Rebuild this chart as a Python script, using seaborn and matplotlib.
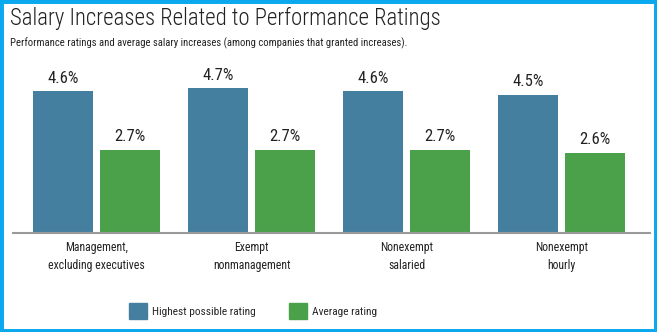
import matplotlib
matplotlib.use("Agg")
import matplotlib.pyplot as plt
import matplotlib.patches as mpatches
import seaborn as sns
import pandas as pd

categories = ["Management,\nexcluding executives", "Exempt\nnonmanagement",
              "Nonexempt\nsalaried", "Nonexempt\nhourly"]
series_names = ["Highest possible rating", "Average rating"]
highest = [4.6, 4.7, 4.6, 4.5]
average = [2.7, 2.7, 2.7, 2.6]
colors = ["#457f9f", "#4aa14a"]

df = pd.DataFrame({
    "category": categories * 2,
    "series": [series_names[0]] * 4 + [series_names[1]] * 4,
    "value": highest + average,
})

sns.set_theme(style="white")
plt.rcParams['font.family'] = ['Roboto Condensed', 'Roboto', 'DejaVu Sans']

fig = plt.figure(figsize=(6.57, 3.32), dpi=100)
ax = fig.add_axes([13/657, 1 - 233/332, (650-13)/657, (233-73)/332])

sns.barplot(data=df, x="category", y="value", hue="series", order=categories,
            hue_order=series_names, palette=colors, width=0.865, gap=0.104,
            ax=ax, legend=False, saturation=1, linewidth=0)

ax.set_ylim(0, 5.2)
ax.set_xlim(-0.539, 3.571)
ax.set_xlabel("")
ax.set_ylabel("")
ax.set_yticks([])
ax.tick_params(axis="x", length=0, pad=6, labelsize=8.5, colors="#222222")
for lab in ax.get_xticklabels():
    lab.set_linespacing(1.45)
for s in ["top", "left", "right"]:
    ax.spines[s].set_visible(False)
ax.spines["bottom"].set_color("#9a9a9a")
ax.spines["bottom"].set_linewidth(1.5)

for cont in ax.containers:
    ax.bar_label(cont, labels=[f"{v:.1f}%" for v in cont.datavalues],
                 padding=4, fontsize=12, color="#222222")

fig.text(10/657, 1 - 18/332, "Salary Increases Related to Performance Ratings",
         fontsize=16.4, fontweight="light", color="#222222", va="center", ha="left")
fig.text(10/657, 1 - 43/332,
         "Performance ratings and average salary increases (among companies that granted increases).",
         fontsize=7.7, color="#222222", va="center", ha="left")

handles = [mpatches.Patch(color=c, label=n) for c, n in zip(colors, series_names)]
fig.legend(handles=handles, loc="center", bbox_to_anchor=(253/657, 1 - 311/332),
           ncol=2, frameon=False, fontsize=8.2, handlelength=1.58, handleheight=1.67,
           handletextpad=0.44, columnspacing=2.9)

fig.patches.append(mpatches.Rectangle((0, 0), 1, 1, transform=fig.transFigure,
                                      fill=False, edgecolor="#0aa8ee", linewidth=5,
                                      zorder=10))

fig.savefig("out.png", dpi=100)
